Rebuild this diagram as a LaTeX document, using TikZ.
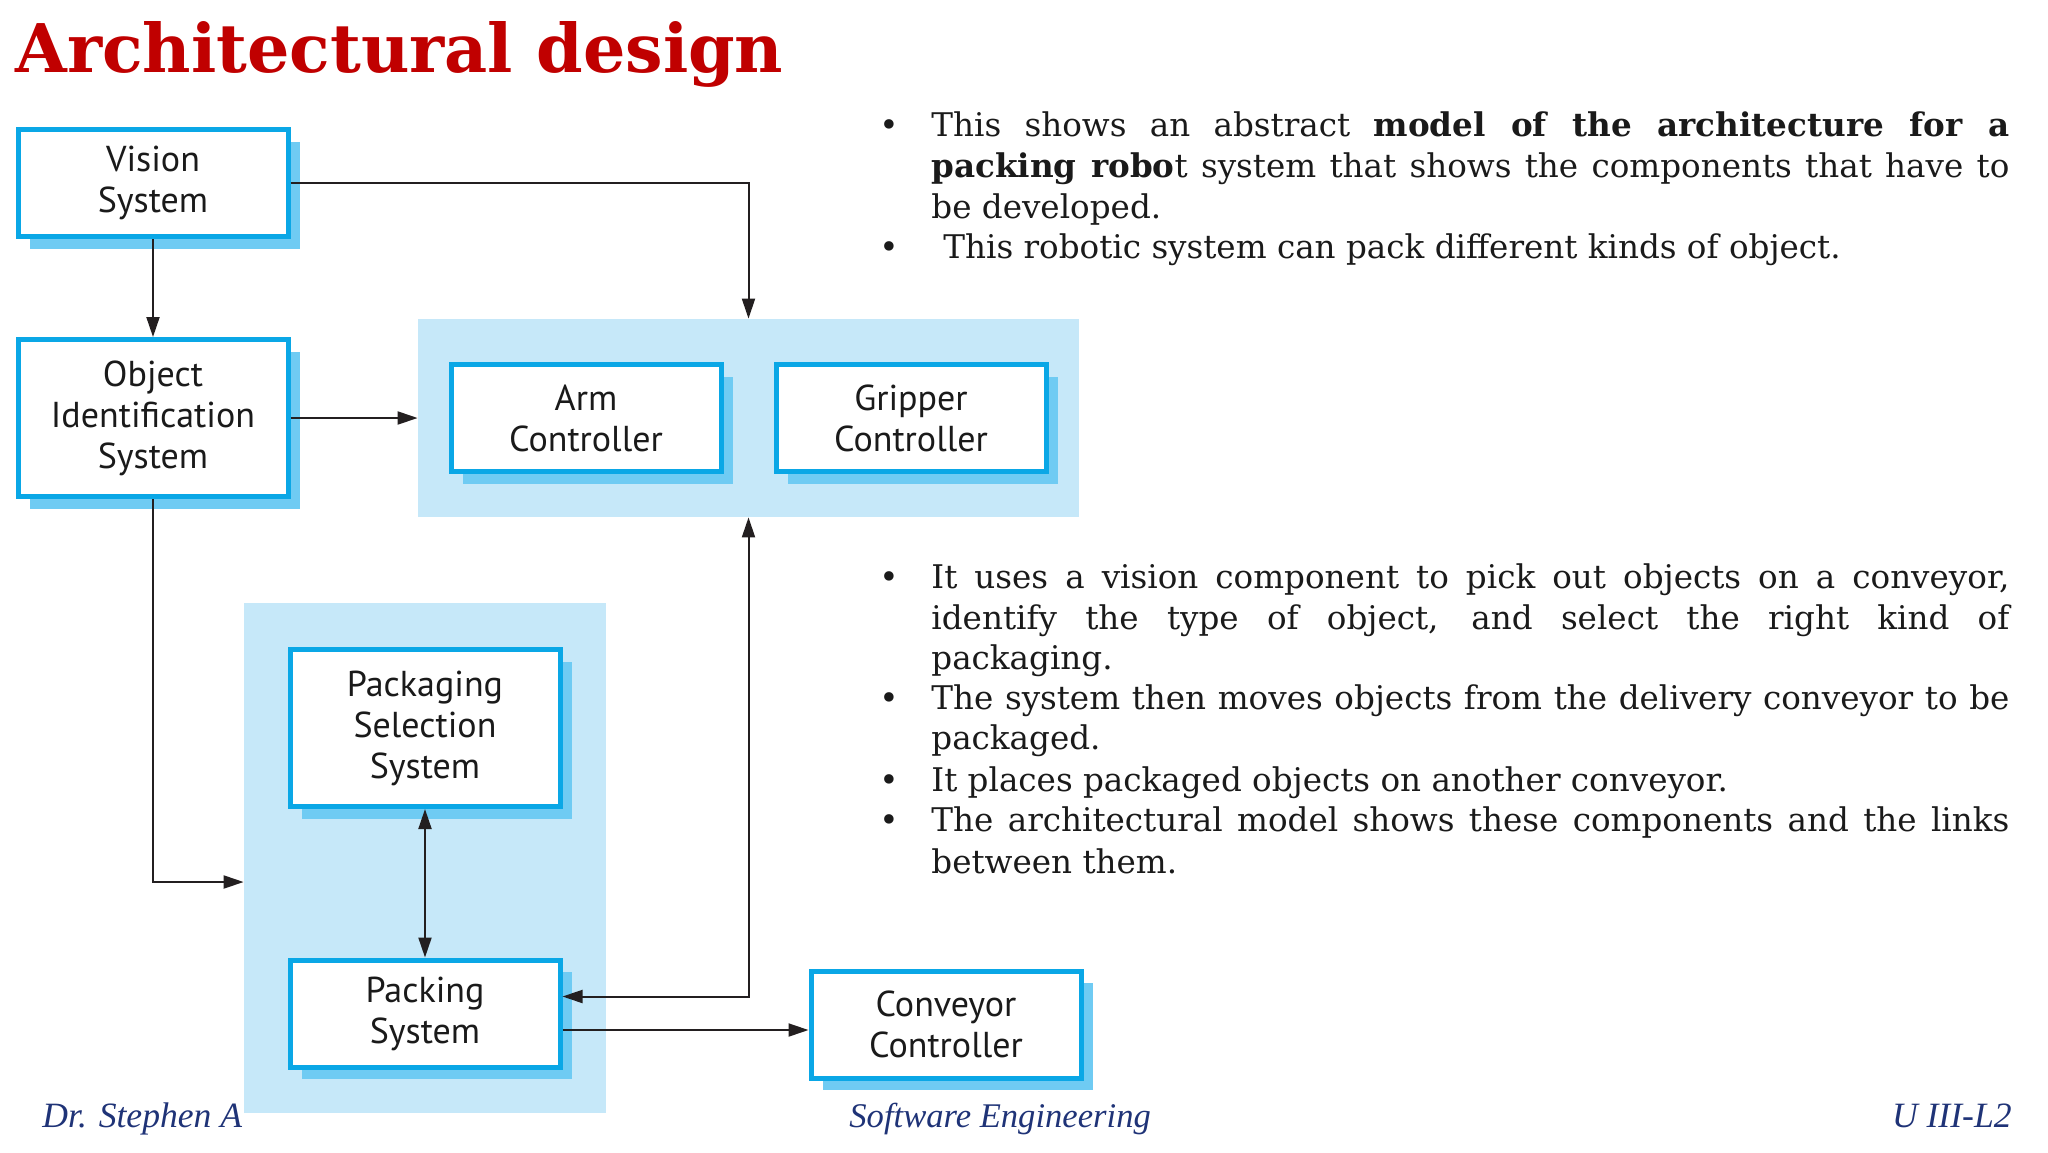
\documentclass[tikz,border=0pt]{standalone}
\usepackage{fontspec}
\setmainfont{DejaVu Serif}
\newfontfamily\boxfont{PT Sans}
\newfontfamily\footfont{Liberation Serif}
\usetikzlibrary{arrows.meta,shadows,calc}
\definecolor{titlered}{HTML}{C00000}
\definecolor{boxblue}{HTML}{0AA7E6}
\definecolor{shadowblue}{HTML}{6FCBF3}
\definecolor{groupblue}{HTML}{C6E8F9}
\definecolor{footblue}{HTML}{1F3377}
\definecolor{arrowgray}{HTML}{231F20}
\definecolor{textgray}{HTML}{1A1A1A}
\begin{document}
\begin{tikzpicture}[x=0.5pt,y=-0.5pt,
  comp/.style={draw=boxblue, line width=2.5pt, fill=white, minimum width=135pt, minimum height=53.5pt,
    inner sep=0pt, align=center, text=textgray, font=\boxfont\fontsize{18}{20.5}\selectfont,
    drop shadow={shadow xshift=6pt,shadow yshift=-6pt,fill=shadowblue,opacity=1}},
  comp3/.style={comp, minimum height=78.5pt},
  group/.style={fill=groupblue, inner sep=0pt},
  conn/.style={draw=arrowgray, line width=1pt},
  arr/.style={-{Triangle[length=10pt,width=6.5pt]}},
  arrboth/.style={{Triangle[length=10pt,width=6.5pt]}-{Triangle[length=10pt,width=6.5pt]}},
  body/.style={anchor=base west, inner sep=0pt, text=textgray, font=\fontsize{16.3}{20}\selectfont},
  bul/.style={anchor=base, inner sep=0pt, text=textgray, font=\fontsize{16.3}{20}\selectfont},
  foot/.style={anchor=base west, inner sep=0pt, text=footblue, font=\footfont\itshape\fontsize{17.8}{20}\selectfont}
]
\useasboundingbox (0,0) rectangle (2048,1152);

% title
\node[anchor=base west, inner sep=0pt, text=titlered] (title) at (15,72)
  {\resizebox{384pt}{25.5pt}{\bfseries Architectural design}};

% groups
\node[group, minimum width=330.5pt, minimum height=99pt] (cont1) at (748.5,418) {};
\node[group, minimum width=181pt, minimum height=255pt] (cont2) at (425,858) {};

% components
\node[comp] (vision) at (153,183) {Vision\\System};
\node[comp3] (object) at (153,418) {Object\\Identification\\System};
\node[comp] (arm) at (586,418) {Arm\\Controller};
\node[comp] (gripper) at (911,418) {Gripper\\Controller};
\node[comp3] (packsel) at (425,728) {Packaging\\Selection\\System};
\node[comp] (packing) at (425,1013.5) {Packing\\System};
\node[comp] (conveyor) at (946,1024.5) {Conveyor\\Controller};

% connectors
\draw[conn,arr] (vision.south) -- (object.north);
\draw[conn,arr] (vision.east) -| (cont1.north);
\draw[conn,arr] (object.east) -- (cont1.west);
\coordinate (c2in) at ([yshift=-12pt]cont2.west);
\draw[conn,arr] (object.south) |- (c2in);
\draw[conn,arrboth] (packsel.south) -- (packing.north);
\coordinate (pin) at ([yshift=8.5pt]packing.east);
\draw[conn,arrboth] (pin) -| (cont1.south);
\coordinate (pout) at ([yshift=-8.25pt]packing.east);
\draw[conn,arr] (pout) -- (pout -| conveyor.west);

% text block 1
\node[bul] (b1) at (889,136) {•};
\node[body] (t1) at (931,136) {\makebox[539pt][s]{This shows an abstract \textbf{model of the architecture for a}}};
\node[body] (t2) at (931,177) {\makebox[539pt][s]{\textbf{packing robo}t system that shows the components that have to}};
\node[body] (t3) at (931,218) {be developed.};
\node[bul] (b2) at (889,258) {•};
\node[body] (t4) at (943,258) {This robotic system can pack different kinds of object.};

% text block 2
\node[bul] (b3) at (889,588) {•};
\node[body] (u1) at (931,588) {\makebox[539pt][s]{It uses a vision component to pick out objects on a conveyor,}};
\node[body] (u2) at (931,629) {\makebox[539pt][s]{identify the type of object, and select the right kind of}};
\node[body] (u3) at (931,669) {packaging.};
\node[bul] (b4) at (889,709) {•};
\node[body] (u4) at (931,709) {\makebox[539pt][s]{The system then moves objects from the delivery conveyor to be}};
\node[body] (u5) at (931,749) {packaged.};
\node[bul] (b5) at (889,791) {•};
\node[body] (u6) at (931,791) {It places packaged objects on another conveyor.};
\node[bul] (b6) at (889,831) {•};
\node[body] (u7) at (931,831) {\makebox[539pt][s]{The architectural model shows these components and the links}};
\node[body] (u8) at (931,873) {between them.};

% footer
\node[foot] (author) at (42,1127) {Dr. Stephen A};
\node[foot, font=\footfont\itshape\fontsize{17.3}{20}\selectfont] (course) at (849,1127) {Software Engineering};
\node[foot, anchor=base east] (unit) at (2012,1127) {U III-L2};
\end{tikzpicture}
\end{document}
